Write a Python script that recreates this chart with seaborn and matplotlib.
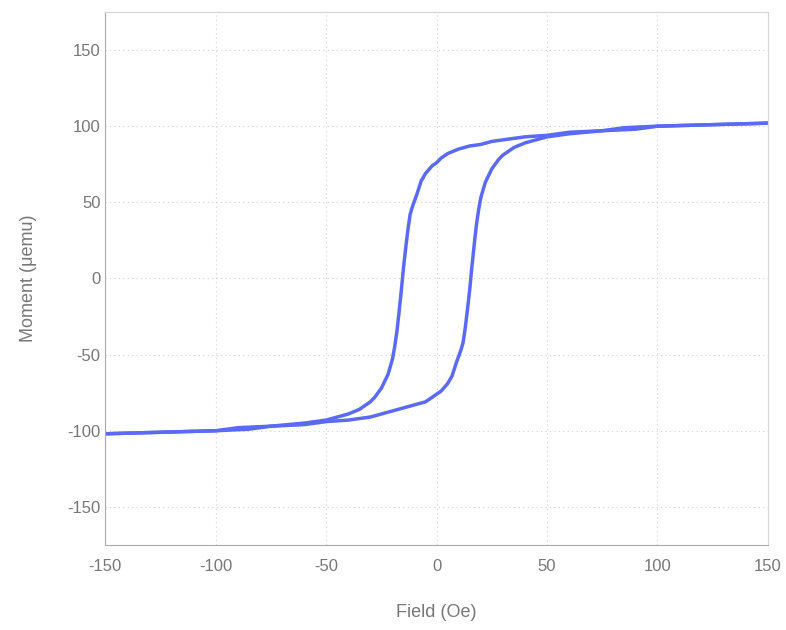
import matplotlib.pyplot as plt
import seaborn as sns
from matplotlib.ticker import MultipleLocator

# descending branch (field swept from +150 down to -150)
field_down = [150, 125, 100, 85, 75, 60, 50, 40, 30, 25, 20, 15, 10, 5, 2, 0, -2, -5, -7, -9, -11, -12, -13, -14, -15, -16, -17, -18, -19, -20, -22, -25, -28, -30, -35, -40, -50, -60, -75, -90, -100, -125, -150]
moment_down = [102, 101, 100, 99, 97, 96, 94, 93, 91, 90, 88, 87, 85, 82, 79, 76, 74, 69, 64, 55, 47, 42, 32, 20, 7, -8, -22, -35, -45, -53, -63, -72, -78, -81, -86, -89, -93, -95, -97, -98, -100, -101, -102]
# ascending branch (field swept from -150 up to +150)
field_up = [-150, -125, -100, -85, -75, -60, -50, -40, -30, -25, -20, -15, -10, -5, -2, 0, 2, 5, 7, 9, 11, 12, 13, 14, 15, 16, 17, 18, 19, 20, 22, 25, 28, 30, 35, 40, 50, 60, 75, 90, 100, 125, 150]
moment_up = [-102, -101, -100, -99, -97, -96, -94, -93, -91, -89, -87, -85, -83, -81, -78, -76, -74, -69, -64, -55, -47, -42, -32, -20, -7, 8, 22, 35, 45, 53, 63, 72, 78, 81, 86, 89, 93, 95, 97, 98, 100, 101, 102]

sns.set_style("white")
plt.rcParams['font.family'] = ['Liberation Sans', 'DejaVu Sans']
plt.rcParams['axes.unicode_minus'] = False
fig, ax = plt.subplots(figsize=(7.86, 6.30), dpi=100)
fig.subplots_adjust(left=0.134, right=0.977, top=0.981, bottom=0.135)

color = '#5a6af5'
sns.lineplot(x=field_down, y=moment_down, ax=ax, color=color, lw=2.5, sort=False)
sns.lineplot(x=field_up, y=moment_up, ax=ax, color=color, lw=2.5, sort=False)

ax.set_xlim(-150, 150)
ax.set_ylim(-175, 175)
ax.xaxis.set_major_locator(MultipleLocator(50))
ax.yaxis.set_major_locator(MultipleLocator(50))
ax.xaxis.set_minor_locator(MultipleLocator(25))
ax.yaxis.set_minor_locator(MultipleLocator(25))
ax.grid(True, which='major', ls=(0, (1, 3)), color='#d0d0d0', lw=0.8)
ax.tick_params(which='both', direction='in', color='#aaaaaa', labelcolor='#777777', labelsize=12)
ax.tick_params(which='major', length=6)
ax.tick_params(which='minor', length=4)
ax.tick_params(axis='x', pad=10)
for s in ax.spines.values():
    s.set_color('#d5d5d5')
ax.spines['left'].set_color('#aaaaaa')
ax.spines['bottom'].set_color('#aaaaaa')
ax.set_xlabel('Field (Oe)', color='#777777', fontsize=13, labelpad=22)
ax.set_ylabel('Moment (\u03bcemu)', color='#777777', fontsize=13, labelpad=22)
plt.savefig('out.png')
